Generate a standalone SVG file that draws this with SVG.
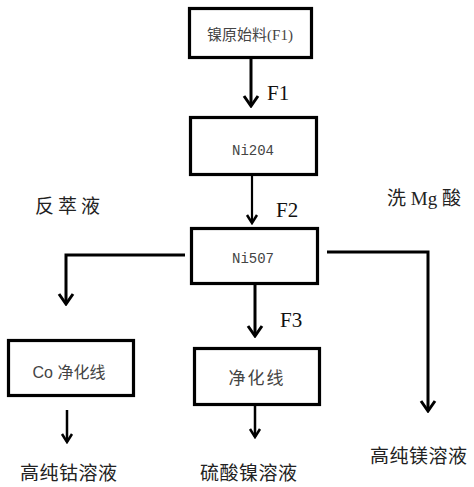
<svg xmlns="http://www.w3.org/2000/svg" width="474" height="487" viewBox="0 0 474 487">
<style>
.box{fill:#fff;stroke:#000;stroke-width:3.2}
.bt{font-family:"Liberation Sans","Noto Sans CJK SC",sans-serif;fill:#444;text-anchor:middle}
.mono{font-family:"Liberation Mono","Noto Sans CJK SC",monospace;fill:#444;text-anchor:middle;font-size:14px}
.lbl{font-family:"Liberation Serif","Noto Sans CJK SC",serif;fill:#222;font-size:19px}
.f{font-family:"Liberation Serif",serif;fill:#111;font-size:21px}
.ln{fill:none;stroke:#000;stroke-width:3}
</style>
<defs>
<marker id="big" markerUnits="userSpaceOnUse" viewBox="-12 -9 14 18" refX="0" refY="0" markerWidth="14" markerHeight="18" orient="auto">
<path d="M-10,-7 L0,0 L-10,7" fill="none" stroke="#000" stroke-width="3"/>
</marker>
<marker id="small" markerUnits="userSpaceOnUse" viewBox="-10 -7 12 14" refX="0" refY="0" markerWidth="12" markerHeight="14" orient="auto">
<path d="M-8,-5 L0,0 L-8,5" fill="none" stroke="#000" stroke-width="2.5"/>
</marker>
</defs>
<g id="connectors">
<line class="ln" x1="251" y1="59" x2="251" y2="106" marker-end="url(#big)"/>
<line class="ln" x1="252" y1="176" x2="252" y2="223" style="stroke-width:2.2" marker-end="url(#small)"/>
<polyline class="ln" points="185,255 66,255 66,304" marker-end="url(#big)"/>
<polyline class="ln" points="327,252 428,252 428,411" marker-end="url(#big)"/>
<line class="ln" x1="255" y1="285" x2="255" y2="336" marker-end="url(#big)"/>
<line class="ln" x1="67" y1="410" x2="67" y2="442" style="stroke-width:2.5" marker-end="url(#small)"/>
<line class="ln" x1="255" y1="406" x2="255" y2="437" style="stroke-width:2.5" marker-end="url(#small)"/>
<text class="f" x="267" y="100">F1</text>
<text class="f" x="276" y="217">F2</text>
<text class="f" x="280" y="327">F3</text>
</g>
<g id="n1"><rect class="box" x="189.5" y="8.5" width="122" height="49"/>
<text class="bt" x="250" y="40" font-size="15">镍原始料<tspan font-family="Liberation Serif">(F1)</tspan></text></g>
<g id="n2"><rect class="box" x="190.5" y="117.5" width="126" height="57"/>
<text class="mono" x="253" y="155">Ni204</text></g>
<g id="n3"><rect class="box" x="191.5" y="228.5" width="126" height="55"/>
<text class="mono" x="253" y="263">Ni507</text></g>
<g id="n4"><rect class="box" x="8.5" y="340.5" width="125" height="55"/>
<text class="bt" x="69" y="378" font-size="16">Co 净化线</text></g>
<g id="n5"><rect class="box" x="194.5" y="348.5" width="125" height="56"/>
<text class="bt" x="257" y="384" font-size="17" letter-spacing="2" fill="#666">净化线</text></g>
<g id="labels">
<text class="lbl" x="35" y="213" letter-spacing="4">反萃液</text>
<text class="lbl" x="387" y="205">洗 Mg 酸</text>
<text class="lbl" x="20" y="480" letter-spacing="0.5">高纯钴溶液</text>
<text class="lbl" x="200" y="480" letter-spacing="0.5">硫酸镍溶液</text>
<text class="lbl" x="370" y="463" letter-spacing="0.5">高纯镁溶液</text>
</g>
</svg>
